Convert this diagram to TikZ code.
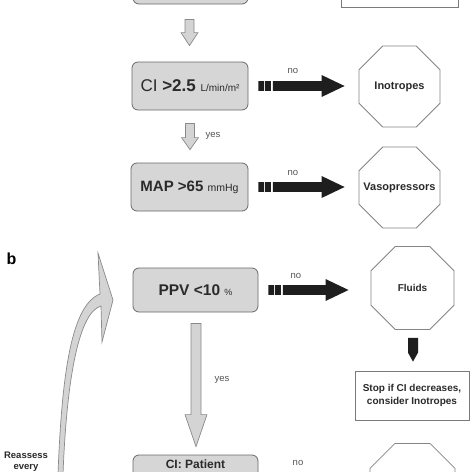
\documentclass[tikz,border=0pt]{standalone}
\usepackage{fontspec}
\setmainfont{Liberation Sans}
\usetikzlibrary{shapes.geometric,calc}
\definecolor{boxfill}{HTML}{D6D6D6}
\definecolor{boxline}{HTML}{6A6A6A}
\definecolor{octline}{HTML}{858585}
\definecolor{rectline}{HTML}{7A7A7A}
\definecolor{arrfill}{HTML}{D4D4D4}
\definecolor{arrline}{HTML}{8A8A8A}
\definecolor{blk}{HTML}{1E1E1E}
\definecolor{txt}{HTML}{2A2A2A}
\definecolor{labtxt}{HTML}{555555}
\newcommand{\garrowdown}[5]{%
  \draw[garrow] let \p1=(#1), \p2=(#2) in
    (\x1-#3,\y1) -- (\x1+#3,\y1) -- (\x1+#3,\y2+#5) -- (\x1+#4,\y2+#5) --
    (\x1,\y2) -- (\x1-#4,\y2+#5) -- (\x1-#3,\y2+#5) -- cycle;}
\newcommand{\karrowright}[2]{%
  \fill[blk] let \p1=(#1), \p2=(#2) in
    (\x1,\y1-4.8pt) rectangle (\x1+5.7pt,\y1+4.8pt)
    (\x1+6.8pt,\y1-4.8pt) rectangle (\x1+12.5pt,\y1+4.8pt)
    (\x1+14.5pt,\y1-4.8pt) -- (\x2-23pt,\y1-4.8pt) -- (\x2-23pt,\y1-11pt) --
    (\x2,\y1) -- (\x2-23pt,\y1+11pt) -- (\x2-23pt,\y1+4.8pt) --
    (\x1+14.5pt,\y1+4.8pt) -- cycle;}
\newcommand{\karrowdown}[2]{%
  \fill[blk] let \p1=(#1), \p2=(#2) in
    (\x1-5pt,\y1) -- (\x1+5pt,\y1) -- (\x1+5pt,\y2+9pt) -- (\x1,\y2) --
    (\x1-5pt,\y2+9pt) -- cycle;}
\begin{document}
\begin{tikzpicture}[x=1pt,y=-1pt,
  pbox/.style={draw=boxline, fill=boxfill, rounded corners=6pt, line width=0.8pt,
    inner sep=0pt, text=txt},
  oct/.style={regular polygon, regular polygon sides=8, draw=octline, line width=0.8pt,
    fill=white, inner sep=0pt, text=txt, font=\bfseries\fontsize{11}{13}\selectfont},
  plainrect/.style={draw=rectline, line width=0.8pt, fill=white, inner sep=0pt},
  lab/.style={font=\fontsize{9.5}{11}\selectfont, text=labtxt},
  garrow/.style={fill=arrfill, draw=arrline, line width=0.7pt, line join=miter},
]
\useasboundingbox (0,0) rectangle (472,472);
\clip (0,0) rectangle (472,472);
\fill[white] (0,0) rectangle (472,472);

% part a
\node[pbox, minimum width=115pt, minimum height=48pt] (top) at (190.5,-20) {};
\node[plainrect, minimum width=117pt, minimum height=50pt] (tr) at (399.5,-18) {};

\node[pbox, minimum width=116pt, minimum height=48pt] (ci) at (190,86)
  {\fontsize{17}{20}\selectfont CI \textbf{>2.5} \fontsize{10}{12}\selectfont L/min/m²};
\node[oct, minimum size=87.7pt] (ino) at (399.5,86.5) {\makebox[0pt]{Inotropes}};

\node[pbox, minimum width=117pt, minimum height=48pt] (map) at (189.5,187)
  {\bfseries\fontsize{15}{18}\selectfont MAP >65 \mdseries\fontsize{10.5}{12}\selectfont mmHg};
\node[oct, minimum size=87.7pt] (vaso) at (399.5,187.5) {\makebox[0pt]{Vasopressors}};

\coordinate (a1s) at ($(top.south)+(-1,15)$);
\coordinate (a1t) at ($(ci.north)+(0,-16)$);
\garrowdown{a1s}{a1t}{4.5pt}{8.5pt}{13pt}
\coordinate (a2s) at ($(ci.south)+(0,13)$);
\coordinate (a2t) at ($(map.north)+(0,-13)$);
\garrowdown{a2s}{a2t}{4.5pt}{8.5pt}{12pt}
\node[lab] (yes1) at (213,136) {yes};

\coordinate (k1s) at ($(ci.east)+(10,0)$);
\coordinate (k1t) at ($(ino.west)+(-14,0)$);
\karrowright{k1s}{k1t}
\node[lab] (no1) at (293,71) {no};
\coordinate (k2s) at ($(map.east)+(10,0)$);
\coordinate (k2t) at ($(vaso.west)+(-14,0)$);
\karrowright{k2s}{k2t}
\node[lab] (no2) at (293,173) {no};

% part b
\node[font=\bfseries\fontsize{16}{16}\selectfont, text=black] (b) at (11.5,259) {b};

\node[pbox, minimum width=125pt, minimum height=44pt] (ppv) at (195.5,290)
  {\bfseries\fontsize{15.5}{18}\selectfont PPV <10 \mdseries\fontsize{9}{10}\selectfont \%};
\node[oct, minimum size=90pt, font=\bfseries\fontsize{10}{12}\selectfont] (fluids) at (412.5,288) {\makebox[0pt]{Fluids}};
\coordinate (k3s) at ($(ppv.east)+(10,0)$);
\coordinate (k3t) at ($(fluids.west)+(-22,0)$);
\karrowright{k3s}{k3t}
\node[lab] (no3) at (296,276) {no};

\node[plainrect, minimum width=114pt, minimum height=49pt, align=center, text=txt,
  font=\bfseries\fontsize{10}{13}\selectfont] (stop) at (412,395.5)
  {Stop if CI decreases,\\consider Inotropes};
\coordinate (k4s) at ($(fluids.south)+(0.5,8)$);
\coordinate (k4t) at ($(stop.north)+(1,-9)$);
\karrowdown{k4s}{k4t}

\node[oct, minimum size=92pt] (oct4) at (412.5,486) {};

\node[pbox, minimum width=125pt, minimum height=60pt] (cipbox) at (195.5,485) {};
\node[font=\bfseries\fontsize{12}{14}\selectfont, text=txt] (cip) at ($(cipbox.north)+(0,10)$) {CI: Patient};
\coordinate (a3s) at ($(ppv.south)+(0.5,11)$);
\coordinate (a3t) at ($(cipbox.north)+(0.5,-8)$);
\garrowdown{a3s}{a3t}{5pt}{11pt}{32pt}
\node[lab] (yes2) at (222,380) {yes};
\node[lab] (no4) at (298,463) {no};

% reassess loop
\node[font=\bfseries\fontsize{9.5}{10.5}\selectfont, align=center, text=txt] (re) at (26,461.5) {Reassess\\every};
\draw[garrow] (58,474) .. controls (62,370) and (72,305) .. (100,294) -- (98,253)
  -- (113,300) -- (102,342) -- (101,306) .. controls (80,312) and (67,372) .. (63,474) -- cycle;
\end{tikzpicture}
\end{document}
